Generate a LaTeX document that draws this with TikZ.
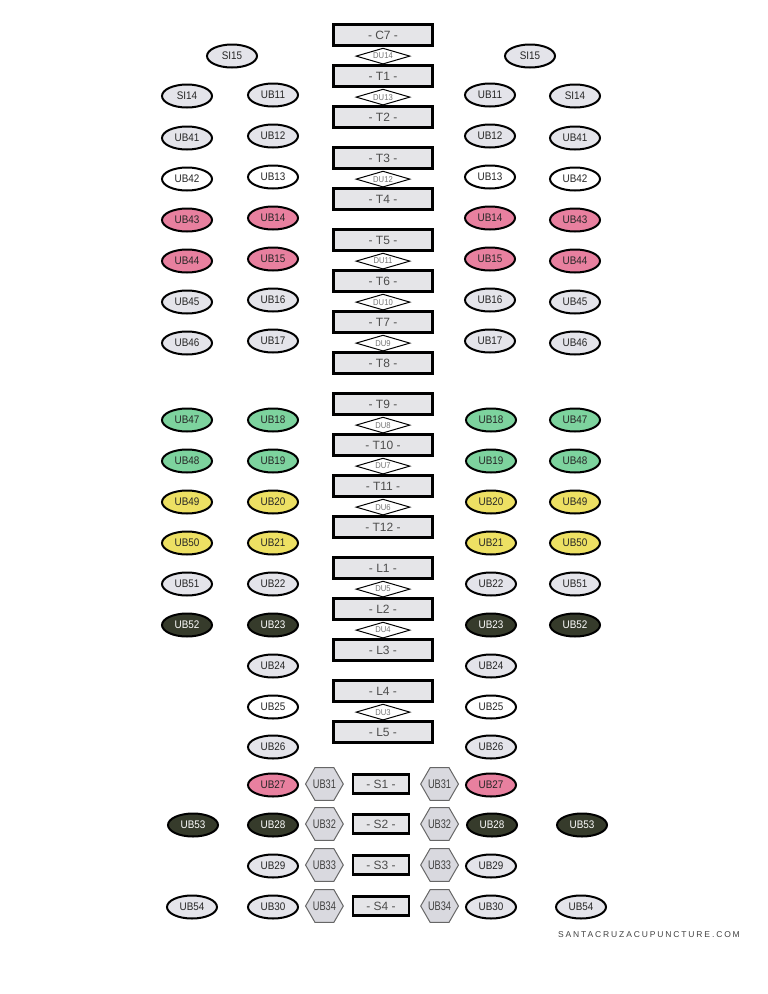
\documentclass[tikz,border=0pt]{standalone}
\usepackage{fontspec}
\setmainfont{Liberation Sans}
\newfontfamily\narrowfont[FakeStretch=0.9]{Liberation Sans}
\newfontfamily\hexfont[FakeStretch=0.74]{Liberation Sans}
\usepackage{xcolor}
\usepackage{tikz}
\usetikzlibrary{shapes.geometric}
\usetikzlibrary{positioning}
\definecolor{ptgray}{HTML}{E4E4EA}
\definecolor{ptpink}{HTML}{E8809F}
\definecolor{ptgreen}{HTML}{7DD39E}
\definecolor{ptyellow}{HTML}{EDE063}
\definecolor{ptdark}{HTML}{363B2B}
\definecolor{bonefill}{HTML}{E5E5E8}
\definecolor{hexfill}{HTML}{D9D9DF}
\tikzset{
  pt/.style={ellipse,draw=black,line width=2pt,fill=#1,minimum width=50pt,minimum height=23pt,inner sep=0pt,font=\narrowfont\fontsize{11}{11}\selectfont,text=black!85},
  ptdk/.style={pt=ptdark,text=white},
  bonebox/.style={rectangle,draw=black,line width=2.2pt,fill=bonefill,minimum width=99pt,minimum height=21pt,inner sep=0pt,font=\fontsize{12}{12}\selectfont,text=black!70},
  sacrumbox/.style={bonebox,minimum width=56pt,minimum height=19pt},
  discbox/.style={diamond,draw=black,line width=1pt,fill=white,aspect=3.4,minimum width=54pt,minimum height=16pt,inner sep=0pt,font=\narrowfont\fontsize{8.5}{8.5}\selectfont,text=black!55},
  hexpt/.style={regular polygon,regular polygon sides=6,draw=black!60,line width=1pt,fill=hexfill,minimum size=36pt,inner sep=0pt,font=\hexfont\fontsize{12.5}{13}\selectfont,text=black!75}
}
\newcommand{\ptpair}[5]{\node[#5] (l#1) at (#2,#4) {#1};\node[#5] (r#1) at (#3,#4) {#1}}

\begin{document}
\begin{tikzpicture}[x=1pt,y=-1pt]
    \useasboundingbox (0,0) rectangle (768,994);
    % spine
    \foreach \n [count=\i from 0] in {C7,T1,T2,T3,T4,T5,T6,T7,T8,T9,T10,T11,T12,L1,L2,L3,L4,L5}
      \node[bonebox] (\n) at (383,{35+41*\i}) {- \n{} -};
    \foreach \d/\a in {14/C7,13/T1,12/T3,11/T5,10/T6,9/T7,8/T9,7/T10,6/T11,5/L1,4/L2,3/L4}
      \node[discbox,below=1pt of \a] (DU\d) {DU\d};
    % sacrum
    \foreach \n/\h/\y in {S1/31/784,S2/32/824,S3/33/865,S4/34/906} {
      \node[sacrumbox] (\n) at (381,\y) {- \n{} -};
      \node[hexpt,left=8pt of \n] (lUB\h) {UB\h};
      \node[hexpt,right=10pt of \n] (rUB\h) {UB\h};
    }
    % points, upper back
    \ptpair{SI15}{232}{530}{56}{pt=ptgray};
    \foreach \p/\y/\c in {SI14/96/ptgray,UB41/138/ptgray,UB42/179/white,UB43/220/ptpink,UB44/261/ptpink,UB45/302/ptgray,UB46/343/ptgray}
      \ptpair{\p}{187}{575}{\y}{pt=\c};
    \foreach \p/\y/\c in {UB11/95/ptgray,UB12/136/ptgray,UB13/177/white,UB14/218/ptpink,UB15/259/ptpink,UB16/300/ptgray,UB17/341/ptgray}
      \ptpair{\p}{273}{490}{\y}{pt=\c};
    % points, lower back
    \foreach \p/\y/\c in {UB47/420/ptgreen,UB48/461/ptgreen,UB49/502/ptyellow,UB50/543/ptyellow,UB51/584/ptgray}
      \ptpair{\p}{187}{575}{\y}{pt=\c};
    \ptpair{UB52}{187}{575}{625}{ptdk};
    \foreach \p/\y/\c in {UB18/420/ptgreen,UB19/461/ptgreen,UB20/502/ptyellow,UB21/543/ptyellow,UB22/584/ptgray,UB24/666/ptgray,UB25/707/white,UB26/747/ptgray,UB27/785/ptpink,UB29/866/ptgray,UB30/907/ptgray}
      \ptpair{\p}{273}{491}{\y}{pt=\c};
    \ptpair{UB23}{273}{491}{625}{ptdk};
    \ptpair{UB28}{273}{492}{825}{ptdk};
    \ptpair{UB53}{193}{582}{825}{ptdk};
    \ptpair{UB54}{192}{581}{907}{pt=ptgray};
    \node[font=\fontsize{8.5}{9}\selectfont\addfontfeature{LetterSpace=22},text=black!75] (site) at (649,935) {SANTACRUZACUPUNCTURE.COM};
\end{tikzpicture}
\end{document}
